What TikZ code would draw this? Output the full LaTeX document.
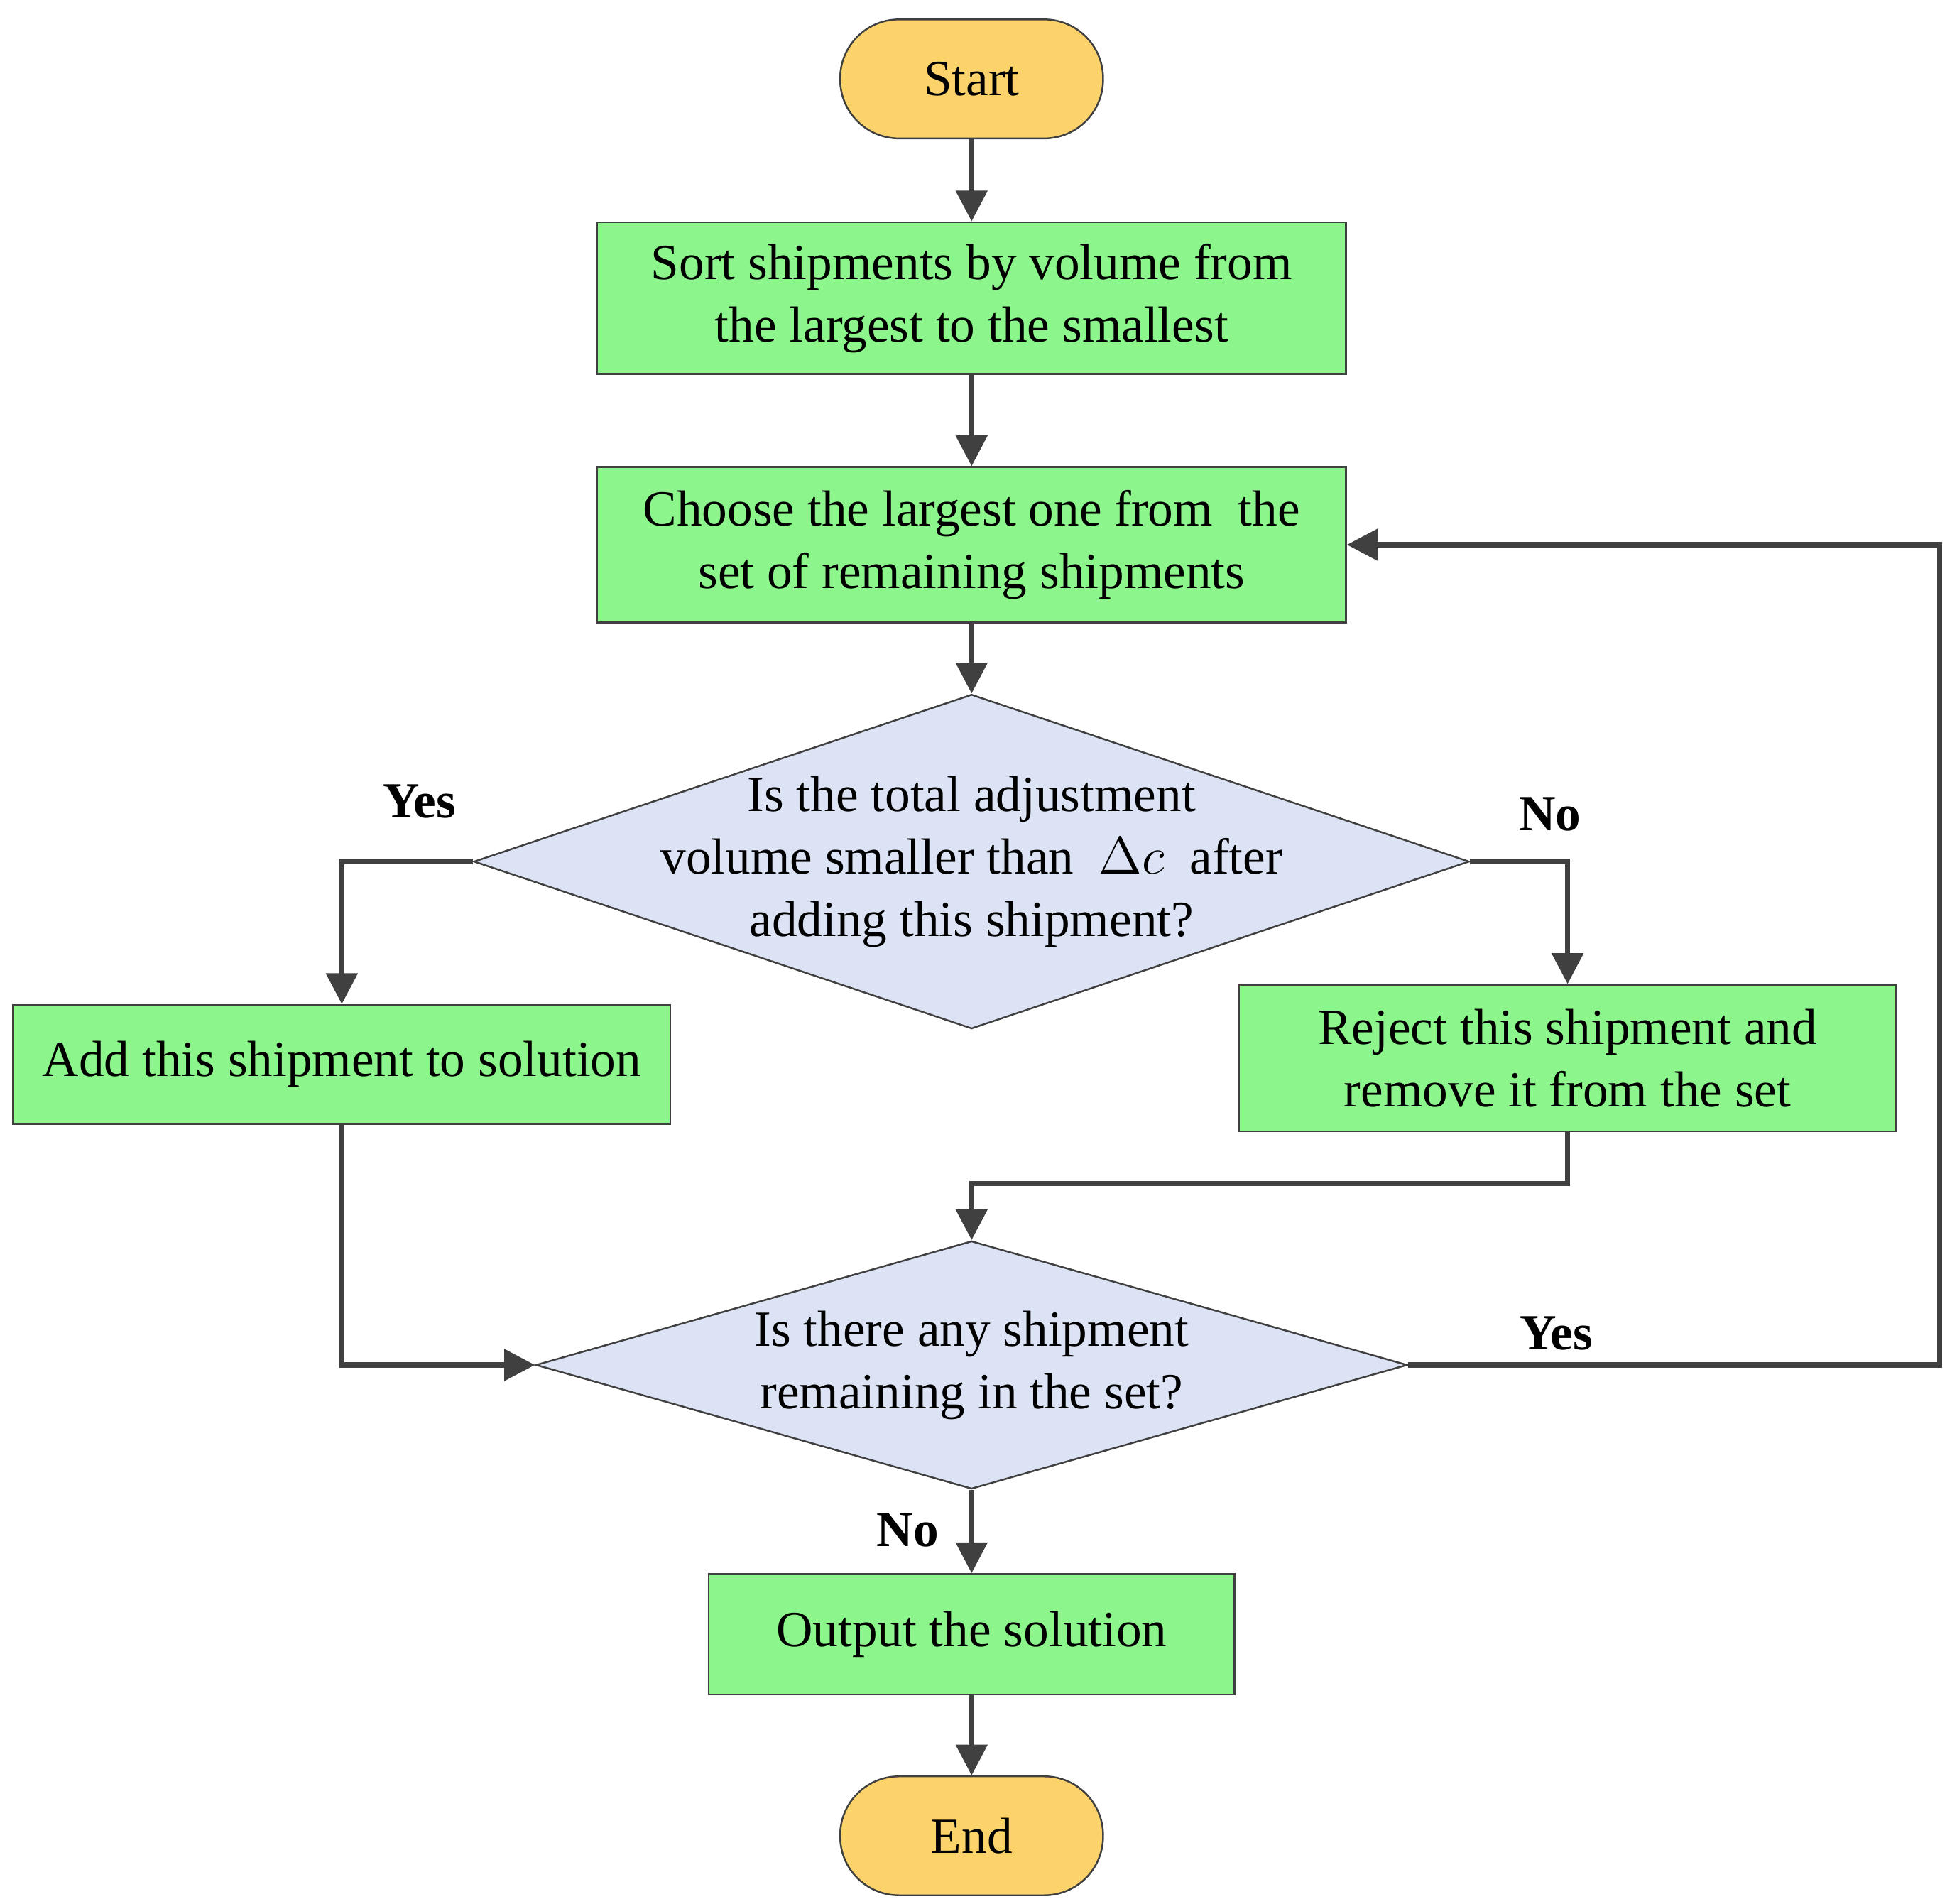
\documentclass[tikz,border=0pt]{standalone}
\usepackage{fontspec}
\setmainfont{Liberation Serif}
\usetikzlibrary{shapes.geometric,arrows.meta,positioning}
\definecolor{boxgreen}{HTML}{8CF58C}
\definecolor{termgold}{HTML}{FCD36A}
\definecolor{decblue}{HTML}{DCE3F5}
\definecolor{linegray}{HTML}{404040}
\begin{document}
\begin{tikzpicture}[
    procbox/.style={rectangle, draw=linegray, fill=boxgreen, align=center, inner sep=0pt, font=\fontsize{11.5}{14.2}\selectfont},
    term/.style={rectangle, rounded corners=0.47cm, draw=linegray, fill=termgold, minimum width=2.1cm, minimum height=0.95cm, font=\fontsize{11.5}{14.2}\selectfont},
    decision/.style={diamond, draw=linegray, fill=decblue, inner sep=0pt},
    dectext/.style={align=center, font=\fontsize{11.5}{14.2}\selectfont},
    lbl/.style={font=\fontsize{11.5}{14.2}\selectfont\bfseries},
    arrow/.style={-{Triangle[length=7pt,width=7pt]}, line width=1.2pt, linegray}
]
    \useasboundingbox (0,0) rectangle (15.63,-15.2);
    \node[term] (start) at (7.76,-0.63) {Start};
    \node[procbox, minimum width=5.98cm, minimum height=1.21cm] (sort) at (7.76,-2.38) {Sort shipments by volume from\\the largest to the smallest};
    \node[procbox, minimum width=5.98cm, minimum height=1.24cm] (choose) at (7.76,-4.35) {Choose the largest one from\enspace the\\set of remaining shipments};
    \node[decision, minimum width=7.95cm, minimum height=2.67cm, aspect=2.98] (check) at (7.76,-6.88) {};
    \node[dectext] (checktext) at (check) {Is the total adjustment\\volume smaller than\enspace $\Delta c$\enspace after\\adding this shipment?};
    \node[procbox, minimum width=5.25cm, minimum height=0.95cm] (add) at (2.73,-8.50) {Add this shipment to solution};
    \node[procbox, minimum width=5.25cm, minimum height=1.17cm] (reject) at (12.52,-8.45) {Reject this shipment and\\remove it from the set};
    \node[decision, minimum width=6.96cm, minimum height=1.98cm, aspect=3.5] (remain) at (7.76,-10.90) {};
    \node[dectext] (remaintext) at (remain) {Is there any shipment\\remaining in the set?};
    \node[procbox, minimum width=4.2cm, minimum height=0.96cm] (output) at (7.76,-13.05) {Output the solution};
    \node[term] (end) at (7.76,-14.66) {End};

    \node[lbl] (yes1) at (3.35,-6.40) {Yes};
    \node[lbl] (no1) at (12.38,-6.50) {No};
    \node[lbl] (yes2) at (12.43,-10.65) {Yes};
    \node[lbl] (no2) at (7.25,-12.22) {No};

    \coordinate (loopb) at (15.49,-10.90);
    \coordinate (loopt) at (15.49,-4.35);

    \draw[arrow] (start) -- (sort);
    \draw[arrow] (sort) -- (choose);
    \draw[arrow] (choose) -- (check.north);
    \draw[arrow] (check.west) -| (add.north);
    \draw[arrow] (check.east) -| (reject.north);
    \draw[arrow] (reject.south) |- (7.76,-9.45) -- (remain.north);
    \draw[arrow] (add.south) |- (remain.west);
    \draw[arrow] (remain.east) -- (loopb) -- (loopt) -- (choose.east);
    \draw[arrow] (remain.south) -- (output);
    \draw[arrow] (output) -- (end);
\end{tikzpicture}
\end{document}
